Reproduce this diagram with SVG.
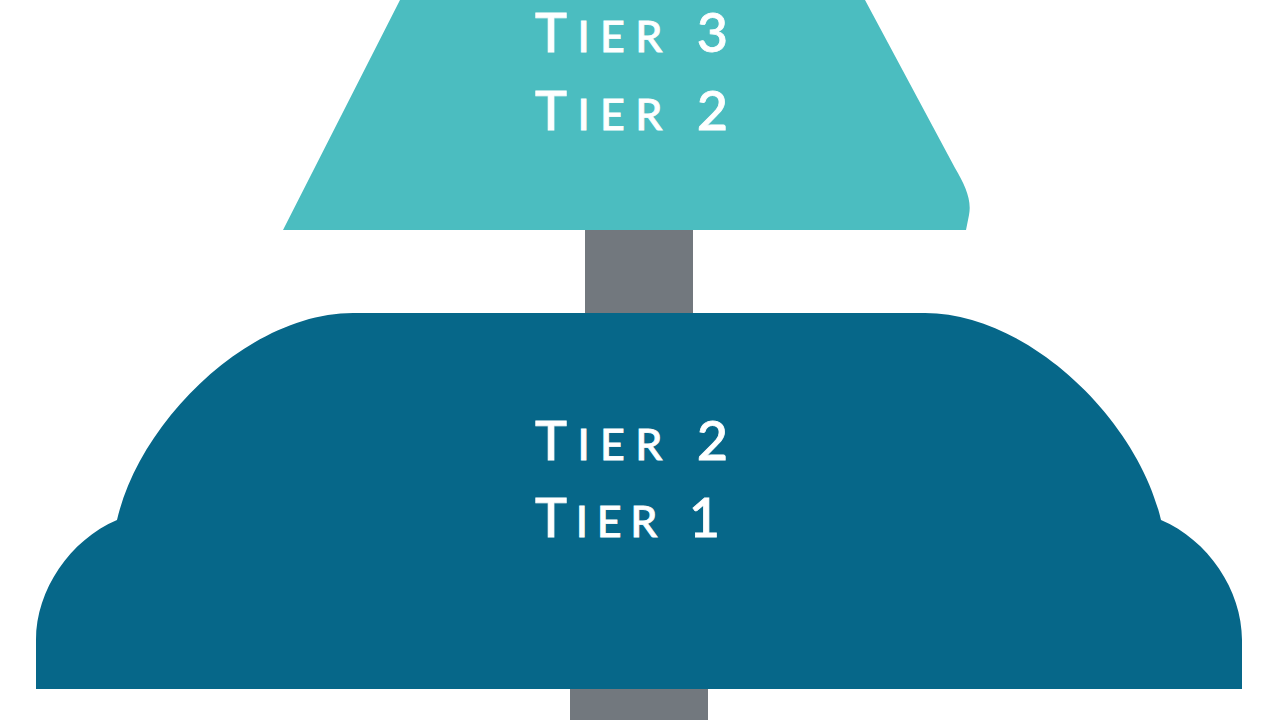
<svg xmlns="http://www.w3.org/2000/svg" width="1280" height="720" viewBox="0 0 1280 720">
<style>
.stem{fill:#72787e}
.top{fill:#4bbdc0}
.base{fill:#066789}
.lbl{fill:#ffffff;font-family:Lato,"Open Sans","Liberation Sans",sans-serif;font-weight:500;stroke:#ffffff;stroke-width:0.8}
.big{font-size:54px}
.sm{font-size:43px}
</style>
<rect width="1280" height="720" fill="#ffffff"/>
<g id="connectors">
<rect class="stem" x="585" y="228" width="108" height="88"/>
<rect class="stem" x="570" y="686" width="138" height="34"/>
</g>
<g id="tier-top">
<path class="top" d="M283 230 L400 0 L865 0 L955 168 C965 185 972 200 969 215 L966 230 Z"/>
<text class="lbl" x="535" y="52" textLength="193" lengthAdjust="spacing"><tspan class="big">T</tspan><tspan class="sm">IER</tspan><tspan class="big"> 3</tspan></text>
<text class="lbl" x="535" y="130" textLength="193" lengthAdjust="spacing"><tspan class="big">T</tspan><tspan class="sm">IER</tspan><tspan class="big"> 2</tspan></text>
</g>
<g id="tier-base">
<path class="base" d="M36 689 L36 640 C36 590 70 540 117 520 C140 420 250 313 353 313 L925 313 C1028 313 1138 420 1161 520 C1208 540 1242 590 1242 640 L1242 689 Z"/>
<text class="lbl" x="535" y="460" textLength="193" lengthAdjust="spacing"><tspan class="big">T</tspan><tspan class="sm">IER</tspan><tspan class="big"> 2</tspan></text>
<text class="lbl" x="535" y="537" textLength="185" lengthAdjust="spacing"><tspan class="big">T</tspan><tspan class="sm">IER</tspan><tspan class="big"> 1</tspan></text>
</g>
</svg>
